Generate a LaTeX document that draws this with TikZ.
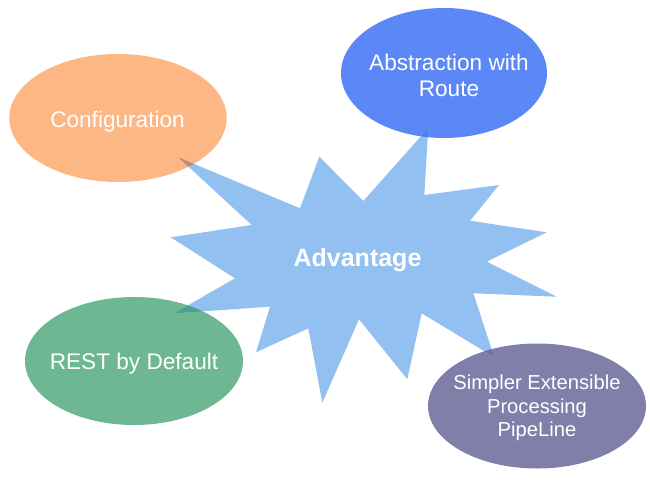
\documentclass[tikz,border=0pt]{standalone}
\usepackage{fontspec}
\setmainfont{Liberation Sans}
\usetikzlibrary{shapes.geometric}
\definecolor{cOrange}{HTML}{FDB784}
\definecolor{cBlue}{HTML}{5B87F7}
\definecolor{cPurple}{HTML}{7F7FAA}
\definecolor{cGreen}{HTML}{6DB793}
\definecolor{cStar}{HTML}{92C0F0}
\definecolor{oOrange}{HTML}{C08C70}
\definecolor{oBlue}{HTML}{4A7FE8}
\definecolor{oPurple}{HTML}{6C72A8}
\definecolor{oGreen}{HTML}{4DA08A}
\def\starpath{(178.3,157.3) -- (300,208.3) -- (319.3,156.7) -- (363.3,201) -- (428.3,128) -- (424.3,195) -- (499,185) -- (470,220.7) -- (546.7,232.3) -- (486.7,261.7) -- (556.7,296.7) -- (473.3,293.3) -- (494.3,357.3) -- (421.7,313.3) -- (407.3,379.3) -- (359,319.3) -- (322.3,402.7) -- (308.3,328.3) -- (256,352.3) -- (270,306.7) -- (174,313.3) -- (235,278.3) -- (170.7,237.3) -- (251.7,225) -- cycle}
\begin{document}
\begin{tikzpicture}[x=1pt,y=-1pt,
  bubble/.style={ellipse,inner sep=0pt,text=white,align=center,
    font=\fontsize{22.6pt}{26.6pt}\selectfont},
  hub/.style={text=white,font=\fontsize{25pt}{30pt}\selectfont\bfseries}]
\useasboundingbox (0,0) rectangle (650,479);
\node[bubble,fill=cOrange,minimum width=217.4pt,minimum height=128pt] (cfg) at (118,118) {};
\node[bubble,fill=cBlue,minimum width=206pt,minimum height=130pt] (abs) at (444,73) {};
\node[bubble,fill=cGreen,minimum width=218pt,minimum height=128pt] (rest) at (134,361) {};
\node[bubble,fill=cPurple,minimum width=218pt,minimum height=125pt] (simp) at (537,406) {};
\fill[cStar] \starpath;
\begin{scope}\clip (cfg.center) ellipse (108.7pt and 64pt); \fill[oOrange] \starpath; \end{scope}
\begin{scope}\clip (abs.center) ellipse (103pt and 65pt); \fill[oBlue] \starpath; \end{scope}
\begin{scope}\clip (rest.center) ellipse (109pt and 64pt); \fill[oGreen] \starpath; \end{scope}
\begin{scope}\clip (simp.center) ellipse (109pt and 62.5pt); \fill[oPurple] \starpath; \end{scope}
\node[hub] (adv) at (357.5,260.5) {Advantage};
\node[bubble] (cfgt) at (117.5,122) {Configuration};
\node[bubble] (abst) at (449,75.5) {Abstraction with\\Route};
\node[bubble] (restt) at (134,364) {REST by Default};
\node[bubble,font=\fontsize{20.2pt}{23.5pt}\selectfont] (simpt) at (537,408) {Simpler Extensible\\Processing\\PipeLine};
\end{tikzpicture}
\end{document}
